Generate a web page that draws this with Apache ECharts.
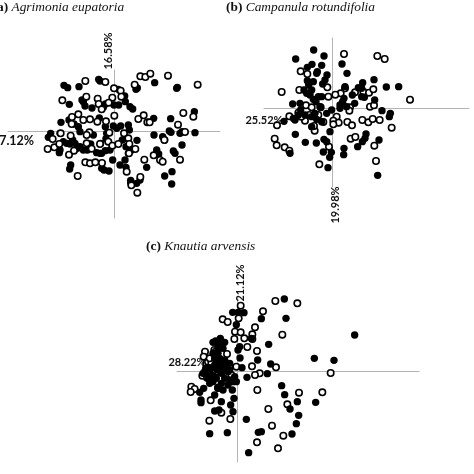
<!DOCTYPE html>
<html><head><meta charset="utf-8">
<style>html,body{margin:0;padding:0;background:#fff}#c{width:474px;height:474px}</style>
<script src="https://cdn.jsdelivr.net/npm/echarts@6/dist/echarts.min.js"></script>
</head><body><div id="c"></div>
<script>
const aFilled=[[-150,139],[-139,132],[-105,135],[-46,157],[-42,152],[13,127],[32,107],[34,90],[48,75],[56,68],[66,127],[70,131],[122,147],[190,133],[188,130],[-96,95],[-92,90],[-134,82],[-87,77],[-66,71],[-32,73],[-26,83],[0,80],[14,80],[-159,28],[-135,35],[-120,23],[-107,15],[-44,41],[119,40],[170,39],[241,60],[-190,-5],[-197,-17],[-162,-5],[-152,-30],[-142,-35],[-162,-55],[-164,-63],[-117,-35],[-110,-50],[-92,-55],[-80,-55],[-52,-63],[-42,-65],[-26,15],[-22,-5],[-2,17],[20,17],[43,20],[46,5],[-26,-57],[-12,-55],[-40,-35],[-62,-10],[-102,0],[25,-25],[38,-20],[69,-26],[36,-45],[53,-55],[120,-10],[146,-15],[152,-25],[166,2],[171,-2],[198,-5],[204,0],[243,-3],[204,-40],[128,-55],[134,-67],[178,-58],[183,-65],[-4,-85],[33,-85],[18,-100],[36,-107],[98,-107],[-130,-100],[-133,-112],[-37,-110],[-30,-115],[-15,-118],[152,-133],[174,-120],[173,-157],[50,-146],[50,-153],[68,-155],[78,-145],[-124,-25],[-132,-37],[-102,-45],[-70,-37],[8,10],[-24,-21],[-37,-65],[43,-65]];
const aOpen=[[-86,152],[-26,149],[0,130],[20,123],[62,141],[79,166],[94,164],[109,174],[162,168],[251,141],[-155,94],[-83,105],[-49,99],[-5,102],[22,105],[-46,83],[-37,67],[-16,87],[-107,52],[-126,44],[-92,35],[-72,37],[-50,30],[-24,31],[1,48],[-127,23],[73,38],[89,49],[100,28],[107,28],[208,56],[238,45],[192,21],[213,-1],[-160,-5],[-184,-22],[-130,-12],[-74,-2],[-82,-10],[-82,-35],[-14,-3],[30,-5],[43,-20],[-199,-52],[-179,-47],[-164,-37],[-135,-69],[-67,-51],[-17,-30],[-5,-42],[13,-37],[46,-37],[64,-52],[45,-65],[-120,-57],[-86,-92],[-72,-95],[-56,-92],[-36,-94],[91,-84],[119,-71],[138,-85],[146,-90],[198,-84],[38,-120],[-109,-133],[52,-161],[70,-183],[79,-136],[151,-25],[-42,-37]];
const bFilled=[[-55,174],[-24,156],[-109,147],[30,132],[-60,131],[-31,128],[-74,122],[-44,109],[-46,104],[45,104],[-15,99],[-21,84],[-28,72],[-74,82],[-56,79],[-70,69],[126,85],[92,76],[163,63],[200,64],[39,64],[79,61],[89,59],[-84,54],[-61,54],[-76,44],[-66,39],[-41,34],[-31,34],[61,39],[89,34],[97,32],[36,29],[32,19],[24,9],[128,24],[-118,12],[-96,14],[-56,26],[-48,19],[68,14],[-94,-6],[-101,-21],[-81,-21],[-36,4],[-1,-6],[-16,-16],[150,-8],[175,-16],[172,-26],[-144,-40],[-111,-36],[-61,-26],[-46,-34],[-31,-41],[-61,-56],[-6,-71],[-110,-79],[-80,-103],[-47,-105],[-24,-94],[-16,-101],[102,-78],[99,-91],[91,-101],[77,-116],[141,-96],[36,-121],[35,-140],[-2,-133],[-26,-132],[-7,-148],[-126,-136],[-12,-179],[137,-202],[24,-1],[44,4],[-116,-31],[-51,-16]];
const bOpen=[[36,162],[136,156],[158,147],[-94,110],[-74,102],[-151,48],[-98,54],[-14,62],[39,59],[26,44],[69,47],[94,49],[111,46],[124,56],[-11,34],[10,40],[234,25],[-78,8],[-34,2],[-61,2],[114,4],[126,8],[54,2],[52,-8],[-128,-25],[-101,-14],[-81,-38],[-41,-21],[14,-26],[4,-38],[46,-42],[60,-52],[20,-44],[4,-49],[-26,-42],[91,-36],[109,-43],[122,-33],[143,-36],[-165,-52],[-52,-68],[-54,-54],[179,-59],[56,-92],[70,-87],[-172,-92],[-166,-112],[-142,-118],[-128,-128],[-9,-116],[127,-113],[132,-159],[-38,-169],[-92,-26],[-68,-21]];
const cFilled=[[142,216],[-13,176],[3,176],[21,175],[73,157],[147,158],[-2,139],[353,108],[-50,98],[95,80],[-72,86],[-37,86],[-57,73],[-42,68],[8,73],[3,63],[-72,53],[-57,53],[-52,38],[-37,33],[9,39],[62,33],[232,38],[291,32],[101,21],[-22,23],[-67,18],[-82,10],[-94,8],[15,10],[91,-8],[30,-19],[-102,-7],[-87,-22],[-72,-17],[-47,-7],[-27,-2],[-7,-17],[-82,-37],[-72,-32],[-47,-37],[-27,-42],[134,-44],[-100,-52],[-112,-64],[-42,-57],[-14,-57],[143,-71],[-67,-72],[-108,-87],[-108,-95],[-47,-92],[-9,-82],[-19,-102],[181,-92],[236,-94],[159,-114],[-12,-122],[-67,-120],[-54,-117],[185,-133],[28,-145],[178,-158],[-82,-188],[-29,-185],[64,-184],[73,-182],[165,-189],[35,-245],[43,98],[-57,-52],[-2,-32],[-82,-2],[-77,-12],[-64,8],[-57,3],[-52,23],[-42,13],[-37,8],[-22,3],[-67,38],[-62,33],[-97,-2],[-90,-10],[-77,-27],[-62,-22],[-37,-22],[-22,-27],[-12,-32],[-57,63],[-47,88],[-64,90],[-32,23]];
const cOpen=[[115,210],[181,203],[11,196],[78,179],[5,158],[-43,155],[-28,147],[54,131],[-6,118],[11,116],[46,110],[136,109],[-8,96],[22,98],[46,96],[31,72],[60,60],[-96,58],[-68,63],[-30,51],[-100,43],[45,14],[117,11],[68,-7],[54,-12],[281,-6],[-2,13],[-104,-14],[-32,-17],[-137,-47],[-127,-54],[-139,-63],[61,-57],[186,-65],[256,-64],[-57,-50],[-79,-88],[151,-100],[94,-114],[-47,-125],[-20,-144],[-83,-149],[105,-164],[139,-194],[60,-214],[123,-232],[-92,23],[-87,28],[-77,23],[-64,58],[-22,13],[-90,-20],[-57,-2],[-17,-12],[-82,38]];
const panelNames=['Agrimonia eupatoria','Campanula rotundifolia','Knautia arvensis'];
const panelTags=['a)','(b)','(c)'];
const axisPercents=[['27.12%','16.58%'],['25.52%','19.98%'],['28.22%','21.12%']];

const frames=[
 {left:8,top:70,width:212,height:148,x:[-318,318],y:[-259,185]},
 {left:264,top:38,width:205,height:149,x:[-204,411],y:[-237,210]},
 {left:177,top:298,width:242,height:164,x:[-180,546],y:[-273,219]}
];
const lineStyle={color:'#b3b3b3',width:1};
const grids=frames.map(f=>({left:f.left,top:f.top,width:f.width,height:f.height,containLabel:false}));
const mkAxis=(f,range,i)=>({type:'value',gridIndex:i,min:range[0],max:range[1],
  splitLine:{show:false},axisTick:{show:false},axisLabel:{show:false},
  axisLine:{show:true,onZero:true,lineStyle:lineStyle}});
const xAxes=frames.map((f,i)=>mkAxis(f,f.x,i));
const yAxes=frames.map((f,i)=>mkAxis(f,f.y,i));
const filled={symbol:'circle',symbolSize:7.4,itemStyle:{color:'#000',opacity:1}};
const open={symbol:'circle',symbolSize:6.4,itemStyle:{color:'#fff',borderColor:'#000',borderWidth:1.6,opacity:1}};
const mk=(data,st,i,z)=>Object.assign({type:'scatter',xAxisIndex:i,yAxisIndex:i,data:data,z:z,silent:true,animation:false,clip:false},st);
const series=[
 mk(aFilled,filled,0,5),mk(aOpen,open,0,6),
 mk(bFilled,filled,1,6),mk(bOpen,open,1,5),
 mk(cFilled,filled,2,6),mk(cOpen,open,2,5)
];
const head=(i,x,y)=>({type:'text',x:x,y:y,z:1,style:{rich:{
   t:{font:'bold 13.4px "Liberation Serif"',fill:'#111'},
   n:{font:'italic 13.4px "Liberation Serif"',fill:'#111'}},
   text:'{t|'+panelTags[i]+'} {n|'+panelNames[i]+'}'}});
const pct=(s,x,y,rot,size)=>({type:'text',x:x,y:y,rotation:rot?Math.PI/2:0,z:1,style:{text:s,font:'bold '+(size||11)+'px Lato',fill:'#111',align:'center',verticalAlign:'middle'}});
const chart=echarts.init(document.getElementById('c'),null,{renderer:'canvas'});
chart.setOption({animation:false,backgroundColor:'#fff',tooltip:{show:false},grid:grids,xAxis:xAxes,yAxis:yAxes,series:series,
 graphic:{elements:[
  head(0,-3,1),head(1,226,1),head(2,146,240),
  pct(axisPercents[0][0],13,141,false,12.5),pct(axisPercents[0][1],108.7,51,true),
  pct(axisPercents[1][0],264,120,false),pct(axisPercents[1][1],335,205,true),
  pct(axisPercents[2][0],187,362,false),pct(axisPercents[2][1],240,283,true)
 ]}});
</script></body></html>
